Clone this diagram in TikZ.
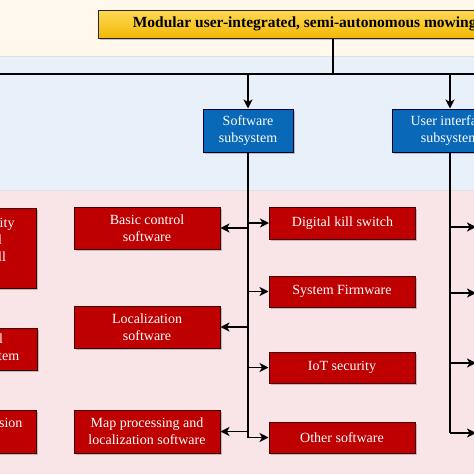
\documentclass[tikz,border=0pt]{standalone}
\usepackage{fontspec}
\setmainfont{Liberation Serif}
\usetikzlibrary{arrows.meta,shadows}

\definecolor{bandtop}{HTML}{FEF9EC}
\definecolor{bandmid}{HTML}{E8F1FA}
\definecolor{bandlow}{HTML}{F9E5E7}
\definecolor{redbox}{HTML}{BE0000}
\definecolor{bluebox}{HTML}{0A68B8}
\definecolor{goldtop}{HTML}{FFDA55}
\definecolor{goldlow}{HTML}{F2B705}

\begin{document}
\begin{tikzpicture}[>={Stealth[length=9pt,width=9pt,inset=2.5pt]}, x=1pt, y=-1pt,
    box/.style={draw=black!75!red, line width=1pt, fill=redbox, text=white, align=center,
      font=\fontsize{14}{17}\selectfont, inner sep=0pt,
      drop shadow={shadow xshift=1.5pt, shadow yshift=-1.5pt, opacity=0.45}},
    leftbox/.style={box, minimum width=146pt, minimum height=42pt},
    rightbox/.style={box, minimum width=146pt, minimum height=31pt},
    subbox/.style={box, fill=bluebox, draw=black!80!blue, minimum height=43pt},
    link/.style={line width=1.8pt}]
    \useasboundingbox (0,0) rectangle (474,474);
    \clip (0,0) rectangle (474,474);
    % background bands
    \fill [bandtop] (0,0) rectangle (474,56);
    \fill [bandmid] (0,56) rectangle (474,190);
    \fill [bandlow] (0,190) rectangle (474,474);
    \draw [black!12, thin] (0,56) -- (474,56) (0,190) -- (474,190);

    \node [box, top color=goldtop, bottom color=goldlow, draw=black!85, text=black,
      font=\bfseries\fontsize{15.5}{18}\selectfont, minimum width=462pt, minimum height=28pt]
      (title) at (329,24) {Modular user-integrated, semi-autonomous mowing system};

    \node [subbox, minimum width=90pt] (sw) at (248,130.5) {Software\\subsystem};
    \node [subbox, minimum width=116pt] (ui) at (450,130.5) {User interface\\subsystem};

    % hardware side, cut off at the left
    \node [box, minimum width=146pt, minimum height=80pt] (hwa) at (-37,248) {Hardware security\\enclosure and\\mechanical kill\\switch};
    \node [leftbox] (hwb) at (-36,349) {Motor control\\and steering system};
    \node [box, minimum width=146pt, minimum height=43pt] (hwc) at (-37,431.5) {Drive and propulsion\\hardware};

    % software side
    \node [leftbox] (basic) at (147,228) {Basic control\\software};
    \node [leftbox] (loc) at (147,327) {Localization\\software};
    \node [box, minimum width=146pt, minimum height=43pt] (map) at (147,431.5) {Map processing and\\localization software};
    \node [rightbox, minimum height=32pt] (dks) at (342.5,223) {Digital kill switch};
    \node [rightbox] (fw) at (342,291.5) {System Firmware};
    \node [rightbox] (iot) at (342,367.5) {IoT security};
    \node [rightbox] (other) at (342,437.5) {Other software};

    \coordinate (bus) at (333,74);
    \coordinate (busW) at (-5,74);
    \coordinate (busE) at (480,74);
    \draw [link] (bus |- title.south) -- (bus);
    \draw [link] (busW) -- (busE);
    \draw [link, ->] (sw.north |- bus) -- (sw.north);
    \draw [link, ->] (ui.north |- bus) -- (ui.north);

    \draw [link] (sw.south) -- (sw.south |- other.west);
    \foreach \n in {basic,loc,map}
        \draw [link, ->] (sw.south |- \n.east) -- (\n.east);
    \foreach \n in {dks,fw,iot,other}
        \draw [link, ->] (sw.south |- \n.west) -- (\n.west);

    % user interface side, boxes beyond the right edge
    \coordinate (ua) at (476,227);
    \coordinate (ub) at (476,293);
    \coordinate (uc) at (476,363);
    \coordinate (ud) at (476,433);
    \draw [link] (ui.south) -- (ui.south |- ud);
    \foreach \c in {ua,ub,uc,ud}
        \draw [link, ->] (ui.south |- \c) -- (\c);
\end{tikzpicture}
\end{document}
